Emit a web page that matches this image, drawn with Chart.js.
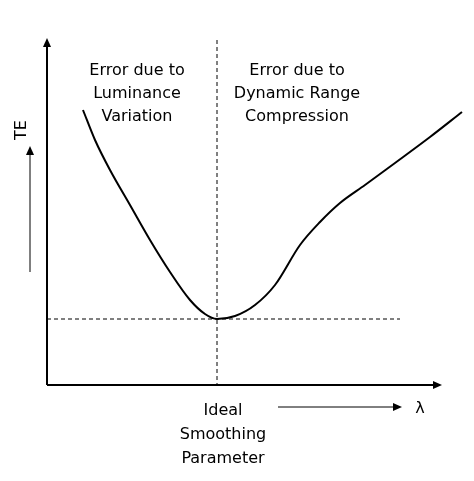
<!DOCTYPE html>
<html>
<head>
<meta charset="utf-8">
<script src="https://cdn.jsdelivr.net/npm/chart.js@4"></script>
<style>
  html, body { margin: 0; padding: 0; background: #fff; }
  #wrap { width: 474px; height: 481px; position: relative; }
</style>
</head>
<body>
<div id="wrap"><canvas id="chart"></canvas></div>
<script>
// Curve (x = lambda, y = TE), origin at the axes corner
const curveX = [36, 48, 63, 83, 103, 123, 143, 158, 170, 188, 208, 228, 253, 273, 293, 318, 348, 383, 415];
const curveY = [275, 245, 215, 180, 145, 113, 85, 71, 66, 69, 80, 100, 140, 163, 182, 200, 222, 248, 273];
const idealX = 170;
const minTE = 66;

const leftLabel = ['Error due to', 'Luminance', 'Variation'];
const rightLabel = ['Error due to', 'Dynamic Range', 'Compression'];
const xLabel = ['Ideal', 'Smoothing', 'Parameter'];

const FONT = '16px "DejaVu Sans", sans-serif';

const decorations = {
  id: 'decorations',
  afterDraw(chart) {
    const { ctx, scales: { x, y } } = chart;
    const x0 = x.getPixelForValue(0), y0 = y.getPixelForValue(0);
    ctx.save();
    ctx.strokeStyle = '#000';
    ctx.fillStyle = '#000';

    // axes
    ctx.lineWidth = 2;
    ctx.beginPath();
    ctx.moveTo(x0, y0); ctx.lineTo(x0, 44);
    ctx.moveTo(x0, y0); ctx.lineTo(436, y0);
    ctx.stroke();
    const head = (px, py, dx, dy) => {
      ctx.beginPath();
      ctx.moveTo(px, py);
      ctx.lineTo(px - dx * 9 - dy * 4, py - dy * 9 - dx * 4);
      ctx.lineTo(px - dx * 9 + dy * 4, py - dy * 9 + dx * 4);
      ctx.closePath(); ctx.fill();
    };
    head(x0, 38, 0, -1);
    head(442, y0, 1, 0);

    // dashed guides
    ctx.lineWidth = 1;
    ctx.setLineDash([4, 3]);
    const gx = x.getPixelForValue(idealX), gy = y.getPixelForValue(minTE);
    ctx.beginPath();
    ctx.moveTo(gx, 40); ctx.lineTo(gx, y0);
    ctx.moveTo(x0, gy); ctx.lineTo(400, gy);
    ctx.stroke();
    ctx.setLineDash([]);

    // texts
    ctx.font = FONT;
    ctx.textAlign = 'center';
    ctx.textBaseline = 'middle';
    leftLabel.forEach((t, i) => ctx.fillText(t, 137, 71 + i * 23));
    rightLabel.forEach((t, i) => ctx.fillText(t, 297, 71 + i * 23));
    xLabel.forEach((t, i) => ctx.fillText(t, 223, 411 + i * 24));
    ctx.fillText('λ', 420, 409);

    ctx.save();
    ctx.translate(22, 130); ctx.rotate(-Math.PI / 2);
    ctx.fillText('TE', 0, 0);
    ctx.restore();

    // small arrows
    ctx.lineWidth = 1;
    ctx.beginPath();
    ctx.moveTo(30, 272); ctx.lineTo(30, 152);
    ctx.moveTo(278, 407); ctx.lineTo(396, 407);
    ctx.stroke();
    head(30, 146, 0, -1);
    head(402, 407, 1, 0);
    ctx.restore();
  }
};

new Chart(document.getElementById('chart'), {
  type: 'line',
  data: {
    datasets: [{
      data: curveX.map((v, i) => ({ x: v, y: curveY[i] })),
      borderColor: '#000',
      borderWidth: 2,
      pointRadius: 0,
      cubicInterpolationMode: 'monotone',
      fill: false
    }]
  },
  options: {
    responsive: true,
    maintainAspectRatio: false,
    animation: false,
    layout: { padding: { left: 47, right: 0, top: 0, bottom: 96 } },
    plugins: { legend: { display: false }, tooltip: { enabled: false } },
    scales: {
      x: { type: 'linear', min: 0, max: 427, display: false },
      y: { min: 0, max: 385, display: false }
    }
  },
  plugins: [decorations]
});
</script>
</body>
</html>
